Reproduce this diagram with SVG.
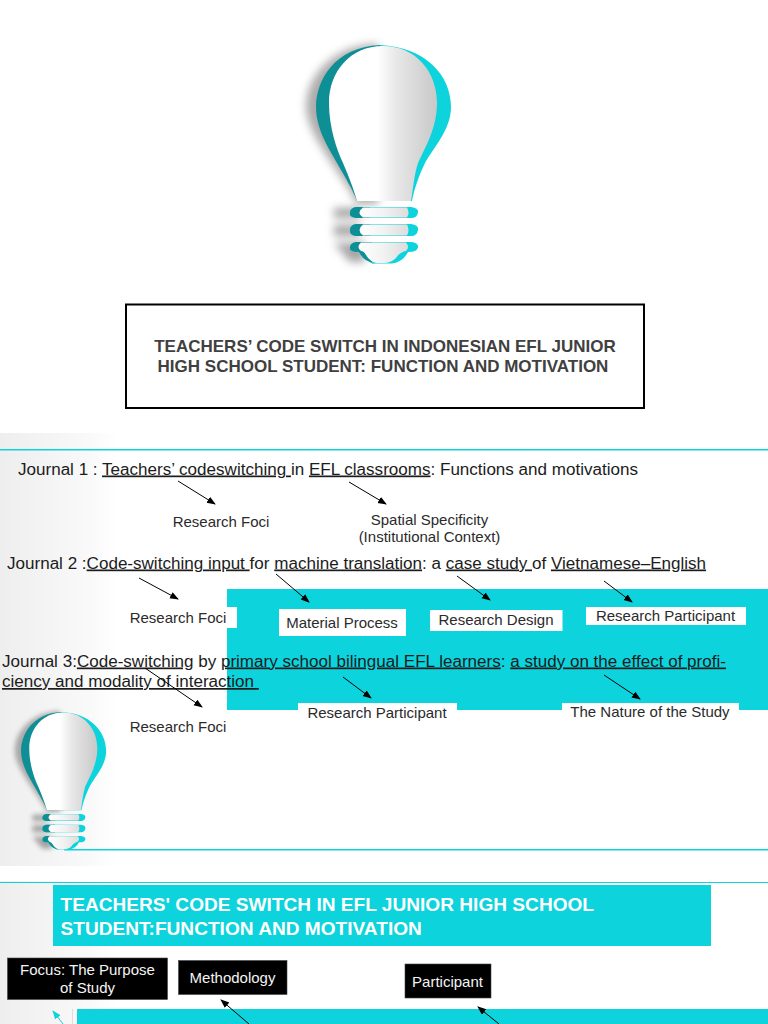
<svg xmlns="http://www.w3.org/2000/svg" xmlns:xlink="http://www.w3.org/1999/xlink" width="768" height="1024" viewBox="0 0 768 1024">
<style>
text{font-family:"Liberation Sans",Arial,sans-serif;fill:#2b2b2b}
.j{font-size:17.060px;fill:#1c1c1c}
.l{font-size:15px;text-anchor:middle}
.u{text-decoration:underline}
.w{fill:#fff}
.t{fill:#0dd3dc}
.k{fill:#000;stroke:#444;stroke-width:.6}
.a{stroke:#000;stroke-width:1;fill:none;marker-end:url(#ah)}
.h{font-size:17px;font-weight:bold;fill:#404040;text-anchor:middle}
.wt{fill:#f4f4f4;font-size:15px;text-anchor:middle}
.d{font-size:19.100px;font-weight:bold}
</style>
<defs>
<marker id="ah" markerUnits="userSpaceOnUse" markerWidth="10" markerHeight="8" refX="8" refY="3.5" orient="auto"><path d="M0,0L9,3.5L0,7Z" fill="#000"/></marker>
<marker id="at" markerUnits="userSpaceOnUse" markerWidth="10" markerHeight="8" refX="8" refY="3.5" orient="auto"><path d="M0,0L9,3.5L0,7Z" fill="#0dd3dc"/></marker>
<linearGradient id="bg"><stop offset="0" stop-color="#eeeeee"/><stop offset=".75" stop-color="#f9f9f9"/><stop offset="1" stop-color="#fff"/></linearGradient>
<linearGradient id="gl" x1="0" x2="1" y1="0" y2="0"><stop offset="0" stop-color="#fff"/><stop offset=".45" stop-color="#fff"/><stop offset=".62" stop-color="#e8e8e8"/><stop offset="1" stop-color="#c8c8c8"/></linearGradient>
<linearGradient id="gr" x1="0" x2="1" y1="0" y2="0"><stop offset="0" stop-color="#fff"/><stop offset=".5" stop-color="#f2f2f2"/><stop offset="1" stop-color="#dcdcdc"/></linearGradient>
<filter id="bl" x="-30%" y="-30%" width="160%" height="160%"><feGaussianBlur stdDeviation="4"/></filter>
<g id="bulb">
<path d="M357,204C345,177 306,135 306,107C306,75 335,44 378,44L378,204Z" fill="#888" opacity=".7" filter="url(#bl)"/>
<path d="M334,208H360V218H334ZM334,225H360V236H334ZM334,243H365V262H350Z" fill="#888" opacity=".75" filter="url(#bl)"/>
<path d="M357,201C353,190 345,177 337,163C330,150 316,130 316,107C316,80 335,47 380,45L385,201Z" fill="#0e8f95"/>
<path d="M412,201C414,190 419,175 425,163C433,148 451,130 451,107C451,75 425,47 380,45L385,201Z" fill="#0dd3dc"/>
<path d="M357,201C354,190 349,177 343,163C337,150 329,128 329,103C329,72 350,46 383,46C416,46 437,72 437,103C437,128 425,148 418,163C414,175 413,190 411,201Z" fill="url(#gl)"/>
<path d="M356,207H411Q419,208 418,212.500Q417,218 411,218H356Q349,217 350,212.500Q350,208 356,207Z" fill="#0dd3dc"/>
<path d="M356,207H370V218H356Q349,217 350,212.500Q350,208 356,207Z" fill="#0e8f95"/>
<path d="M363,207.500H407Q410,212.500 407,217.500H363Q356,212.500 363,207.500Z" fill="url(#gr)"/>
<path d="M356,224H411Q419,225 418,230Q417,236 411,236H356Q349,235 350,230Q350,225 356,224Z" fill="#0dd3dc"/>
<path d="M356,224H370V236H356Q349,235 350,230Q350,225 356,224Z" fill="#0e8f95"/>
<path d="M363,224.500H407Q410,230 407,235.500H363Q356,230 363,224.500Z" fill="url(#gr)"/>
<path d="M356,242H411Q419,243 418,247.500Q417,252 408,252Q403,262 392,263.500H376Q364,262 359,252Q349,252 350,247.500Q350,243 356,242Z" fill="#0dd3dc"/>
<path d="M356,242H372V263.500H376Q364,262 359,252Q349,252 350,247.500Q350,243 356,242Z" fill="#0e8f95"/>
<path d="M361,242.500H406Q410,247 406,251Q400,252 396,258Q391,263 384,263H377Q370,262 366,255Q364,251 361,251Q356,247 361,242.500Z" fill="url(#gr)"/>
</g>
</defs>
<rect width="768" height="1024" fill="#fff"/>
<g id="slide-backgrounds">
<rect x="0" y="433" width="118" height="433" fill="url(#bg)"/>
<rect x="0" y="881" width="118" height="143" fill="url(#bg)"/>
<rect x="0" y="449" width="768" height="1.500" fill="#0dd3dc"/>
<rect x="64" y="849" width="704" height="1.500" fill="#0dd3dc"/>
<rect x="0" y="882" width="768" height="1" fill="#0dd3dc"/>
</g>
<use id="bulb-large" xlink:href="#bulb" href="#bulb"/>
<g id="title-box">
<rect x="126" y="304.500" width="518" height="103.500" fill="#fff" stroke="#000" stroke-width="2"/>
<text class="h" x="385" y="352">TEACHERS’ CODE SWITCH IN INDONESIAN EFL JUNIOR</text>
<text class="h" x="383" y="372">HIGH SCHOOL STUDENT: FUNCTION AND MOTIVATION</text>
</g>
<g id="teal-panel"><rect class="t" x="227" y="589" width="541" height="121"/></g>
<g id="journal-1"><text class="j" x="18" y="474.500">Journal 1 : <tspan class="u">Teachers’ codeswitching </tspan>in <tspan class="u">EFL classrooms</tspan>: Functions and motivations</text></g>
<g id="journal-2"><text class="j" x="7" y="568.500">Journal 2 :<tspan class="u">Code-switching input </tspan>for <tspan class="u">machine translation</tspan>: a <tspan class="u">case study </tspan>of <tspan class="u">Vietnamese–English</tspan></text></g>
<g id="journal-3">
<text class="j" x="2" y="666.500">Journal 3:<tspan class="u">Code-switching</tspan> by <tspan class="u">primary school bilingual EFL learners</tspan>: <tspan class="u">a study on the effect of profi-</tspan></text>
<text class="j u" x="2" y="687" xml:space="preserve">ciency and modality of interaction </text>
</g>
<g id="foci-1"><text class="l" x="221" y="527">Research Foci</text></g>
<g id="spatial"><text class="l" x="429.500" y="525">Spatial Specificity</text><text class="l" x="429.500" y="542">(Institutional Context)</text></g>
<g id="foci-2"><rect class="w" x="227" y="607" width="10" height="21"/><text class="l" x="178" y="623">Research Foci</text></g>
<g id="material"><rect class="w" x="279" y="609" width="127" height="27"/><text class="l" x="342" y="628">Material Process</text></g>
<g id="design"><rect class="w" x="430" y="610" width="132.500" height="21"/><text class="l" x="496" y="625">Research Design</text></g>
<g id="participant-2"><rect class="w" x="586" y="607" width="160" height="18"/><text class="l" x="665.500" y="621">Research Participant</text></g>
<g id="foci-3"><text class="l" x="178" y="732">Research Foci</text></g>
<g id="participant-3"><rect class="w" x="298" y="703" width="159" height="20"/><text class="l" x="377" y="718">Research Participant</text></g>
<g id="nature"><rect class="w" x="562" y="703" width="177" height="18"/><text class="l" x="650" y="717">The Nature of the Study</text></g>
<use id="bulb-small" xlink:href="#bulb" href="#bulb" transform="translate(-178 683.600) scale(.63)"/>
<g id="slide-3-title">
<rect class="t" x="53" y="885" width="658" height="61"/>
<text class="d" x="60.500" y="911" style="fill:#fff">TEACHERS' CODE SWITCH IN EFL JUNIOR HIGH SCHOOL</text>
<text class="d" x="60.500" y="934.500" style="fill:#fff">STUDENT:FUNCTION AND MOTIVATION</text>
</g>
<g id="focus"><rect class="k" x="7.500" y="958" width="160" height="41.500"/><text class="wt" x="87.500" y="975">Focus: The Purpose</text><text class="wt" x="87.500" y="993">of Study</text></g>
<g id="methodology"><rect class="k" x="178.500" y="960.500" width="108.500" height="34"/><text class="wt" x="232.500" y="983">Methodology</text></g>
<g id="participant"><rect class="k" x="405" y="964" width="86" height="34"/><text class="wt" x="447.500" y="987">Participant</text></g>
<g id="bottom-panel"><rect class="t" x="77" y="1009" width="691" height="15"/><rect x="72" y="1009" width="1" height="15" fill="#ddd"/></g>
<g id="connectors">
<line class="a" x1="178" y1="481" x2="215" y2="504"/>
<line class="a" x1="349" y1="482" x2="386" y2="504"/>
<line class="a" x1="139" y1="578" x2="178" y2="599"/>
<line class="a" x1="276" y1="574" x2="309" y2="602"/>
<line class="a" x1="457" y1="576" x2="490" y2="600"/>
<line class="a" x1="604" y1="581" x2="632" y2="602"/>
<line class="a" x1="145" y1="668" x2="202" y2="707"/>
<line class="a" x1="343" y1="677" x2="371" y2="698"/>
<line class="a" x1="604" y1="675" x2="640" y2="699"/>
<line class="a" x1="249" y1="1024" x2="221" y2="1000"/>
<line class="a" x1="499" y1="1024" x2="478" y2="1007"/>
<line x1="63" y1="1024" x2="53" y2="1011" stroke="#0dd3dc" fill="none" marker-end="url(#at)"/>
</g>
</svg>
